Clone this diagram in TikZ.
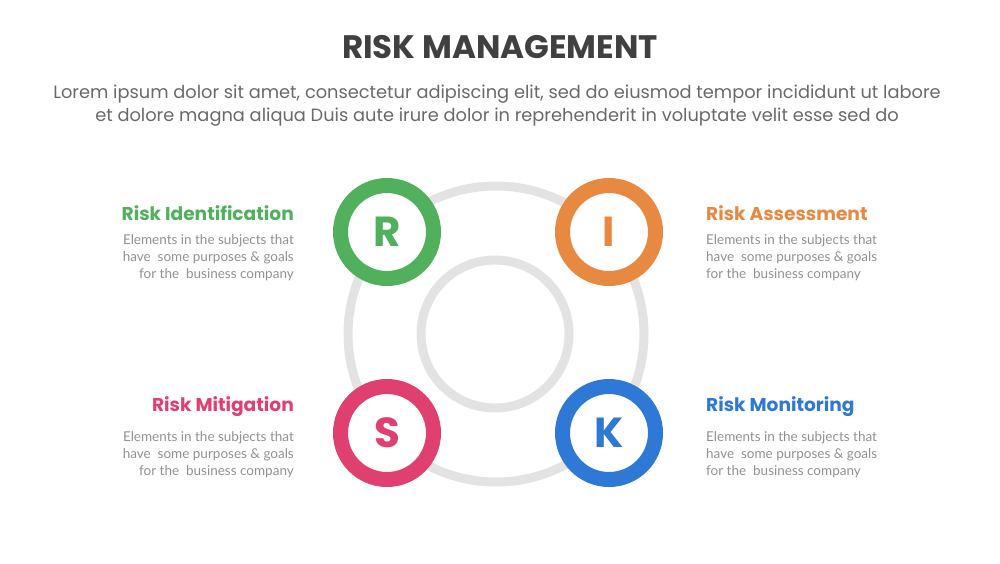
\documentclass[tikz,border=0pt]{standalone}
\usepackage{fontspec}
\setmainfont{Poppins}
\newfontfamily\descfont{Lato}
\usetikzlibrary{positioning}

\definecolor{riskgreen}{RGB}{80,176,92}
\definecolor{riskorange}{RGB}{232,137,66}
\definecolor{riskpink}{RGB}{224,64,112}
\definecolor{riskblue}{RGB}{46,120,214}
\definecolor{ringgray}{RGB}{227,227,227}
\definecolor{titlegray}{RGB}{64,64,64}
\definecolor{subgray}{RGB}{105,105,105}
\definecolor{descgray}{RGB}{145,145,145}

\begin{document}
\begin{tikzpicture}[
        x=1pt, y=-1pt,
        node distance=4pt,
        ring/.style={circle, draw=ringgray, line width=9pt, inner sep=0pt},
        letter/.style={circle, draw=#1, text=#1, fill=white, line width=15pt, minimum size=93pt, inner sep=0pt, font=\fontsize{42}{42}\selectfont\bfseries},
        heading/.style={text=#1, inner sep=0pt, font=\fontsize{18.6}{20}\selectfont\bfseries},
        desc/.style={text=descgray, inner sep=0pt, font=\descfont\fontsize{13.5}{17}\selectfont},
        title/.style={text=titlegray, inner sep=0pt, font=\fontsize{32.5}{34}\selectfont\bfseries},
        subtitle/.style={text=subgray, inner sep=0pt, align=center, font=\fontsize{17.8}{23}\selectfont}
    ]
        \useasboundingbox (0,0) rectangle (1000,563);

        % Header
        \node (title) [title] at (500,47) {RISK MANAGEMENT};
        \node (subtitle) [subtitle] at (497,106) {Lorem ipsum dolor sit amet, consectetur adipiscing elit, sed do eiusmod tempor incididunt ut labore\\et dolore magna aliqua Duis aute irure dolor in reprehenderit in voluptate velit esse sed do};

        % Background rings
        \node (outerring) [ring, minimum size=296pt] at (496,334) {};
        \node (innerring) [ring, minimum size=148pt] at (495,334) {};

        % Letter circles
        \node (rcircle) [letter=riskgreen] at (387,232) {R};
        \node (icircle) [letter=riskorange] at (609,232) {I};
        \node (scircle) [letter=riskpink] at (387,433) {S};
        \node (kcircle) [letter=riskblue] at (609,433) {K};

        % Left side texts
        \node (identhead) [heading=riskgreen, anchor=east] at (294,213) {Risk Identification};
        \node (identdesc) [desc, align=right, below=14pt of identhead.south east, anchor=north east] {Elements in the subjects that\\have\ \ some purposes \& goals\\for the\ \ business company};
        \node (mitighead) [heading=riskpink, anchor=east] at (294,407) {Risk Mitigation};
        \node (mitigdesc) [desc, align=right, below=14pt of mitighead.south east, anchor=north east] {Elements in the subjects that\\have\ \ some purposes \& goals\\for the\ \ business company};

        % Right side texts
        \node (assesshead) [heading=riskorange, anchor=west] at (706,213) {Risk Assessment};
        \node (assessdesc) [desc, align=left, below=14pt of assesshead.south west, anchor=north west] {Elements in the subjects that\\have\ \ some purposes \& goals\\for the\ \ business company};
        \node (monitorhead) [heading=riskblue, anchor=west] at (706,407) {Risk Monitoring};
        \node (monitordesc) [desc, align=left, below=14pt of monitorhead.south west, anchor=north west] {Elements in the subjects that\\have\ \ some purposes \& goals\\for the\ \ business company};

    \end{tikzpicture}
\end{document}
